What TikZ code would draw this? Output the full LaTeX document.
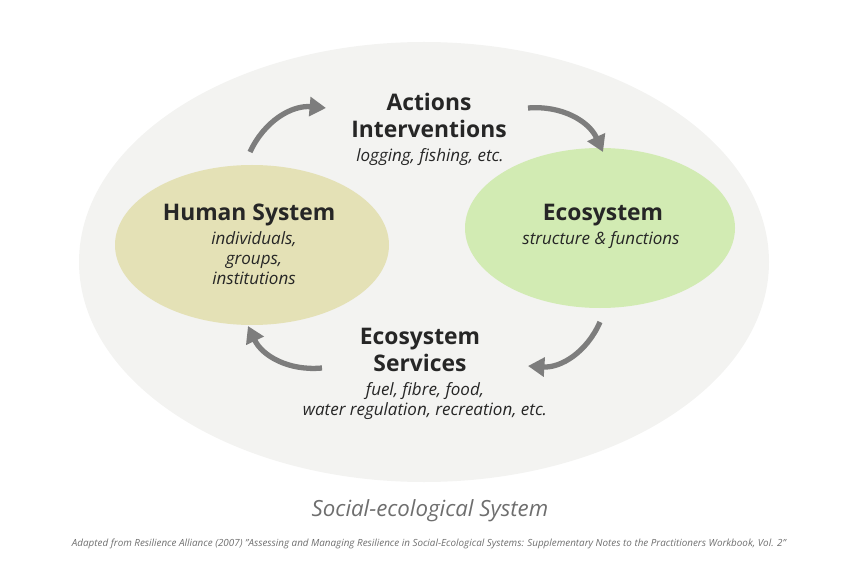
\documentclass[tikz,border=0pt]{standalone}
\usepackage{fontspec}
\setmainfont{Open Sans}
\usetikzlibrary{positioning, arrows.meta}
\definecolor{outerfill}{HTML}{F3F3F1}
\definecolor{humanfill}{HTML}{E4E1B6}
\definecolor{ecofill}{HTML}{D2EBB3}
\definecolor{flowgrey}{HTML}{7D7D7D}
\definecolor{textgrey}{HTML}{6E6E6E}
\tikzset{
  title/.style={font=\fontsize{19.5}{23}\selectfont\bfseries, align=center, text=black!85},
  sub/.style={font=\fontsize{14.5}{17}\selectfont\itshape, align=center, text=black!85},
  flow/.style={line width=4.5pt, flowgrey, -{Triangle[length=14pt, width=16pt]}}
}
\begin{document}
\begin{tikzpicture}[x=0.03cm, y=-0.03cm]
    \useasboundingbox (0, 0) rectangle (849, 570);

    % Outer system
    \fill[outerfill] (424, 262) ellipse [x radius=345, y radius=220];

    % The two systems
    \fill[humanfill] (252, 245) ellipse [x radius=137, y radius=80];
    \fill[ecofill] (600, 228) ellipse [x radius=135, y radius=80];

    \node[title] (human) at (249, 215) {Human System};
    \node[sub] (humansub) at (254, 258) {individuals,\\groups,\\institutions};

    \node[title] (eco) at (603, 215) {Ecosystem};
    \node[sub] (ecosub) at (601, 240) {structure \& functions};

    \node[title] (actions) at (429, 115) {Actions\\Interventions};
    \node[sub] (actsub) at (430, 157) {logging, fishing, etc.};

    \node[title] (services) at (420, 350) {Ecosystem\\Services};
    \node[sub] (servsub) at (425, 401) {fuel, fibre, food,\\water regulation, recreation, etc.};

    % Arrows
    \coordinate (a1s) at (250, 152); \coordinate (a1e) at (326, 108);
    \coordinate (a2s) at (528, 108); \coordinate (a2e) at (603, 152);
    \coordinate (a3s) at (600, 322); \coordinate (a3e) at (528, 366);
    \coordinate (a4s) at (322, 368); \coordinate (a4e) at (248, 326);
    \draw[flow] (a1s) to[bend left=35] (a1e);
    \draw[flow] (a2s) to[bend left=35] (a2e);
    \draw[flow] (a3s) to[bend left=35] (a3e);
    \draw[flow] (a4s) to[bend left=35] (a4e);

    % The captions
    \node[font=\fontsize{19}{22}\selectfont\itshape, text=textgrey] (caption) at (430, 511) {Social-ecological System};
    \node[font=\fontsize{8.4}{10}\selectfont\itshape, text=textgrey] (source) at (429, 544)
      {Adapted from Resilience Alliance (2007) ''Assessing and Managing Resilience in Social-Ecological Systems: Supplementary Notes to the Practitioners Workbook, Vol. 2''};
\end{tikzpicture}
\end{document}
